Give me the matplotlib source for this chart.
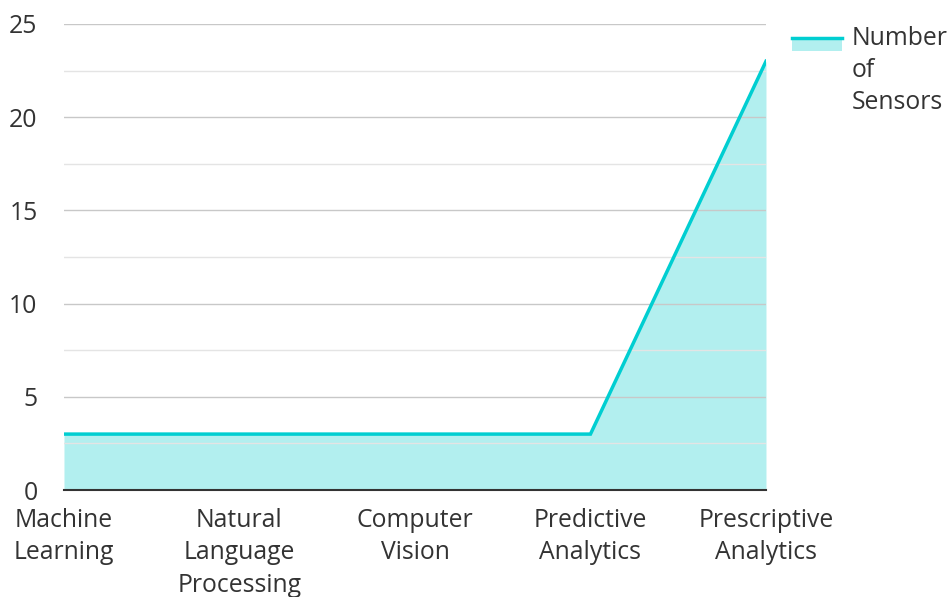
import matplotlib.pyplot as plt
from matplotlib.legend_handler import HandlerBase
from matplotlib.patches import Rectangle
from matplotlib.lines import Line2D

plt.rcParams['font.family'] = ['Open Sans', 'DejaVu Sans']

categories = ['Machine\nLearning', 'Natural\nLanguage\nProcessing', 'Computer\nVision',
              'Predictive\nAnalytics', 'Prescriptive\nAnalytics']
sensors = [3, 3, 3, 3, 23]
series_name = 'Number\nof\nSensors'

line_color = '#00CED1'
fill_color = '#B2EFEF'
fs = 17.8


class AreaHandler(HandlerBase):
    # line on top of a filled block, aligned with first label line
    def create_artists(self, legend, orig_handle, xdescent, ydescent, width, height, fontsize, trans):
        shift = 23
        y0 = -ydescent + shift - 2
        y1 = -ydescent + shift + 7
        rect = Rectangle((-xdescent, y0), width, y1 - y0,
                         facecolor=fill_color, edgecolor='none', transform=trans)
        ln = Line2D([-xdescent, -xdescent + width], [y1, y1],
                    color=line_color, lw=2.5, transform=trans)
        return [rect, ln]


fig = plt.figure(figsize=(9.52, 5.97), dpi=100)
ax = fig.add_axes([0.0672, 0.1792, 0.7374, 0.7806])

x = list(range(len(categories)))
ax.fill_between(x, 0, sensors, color=fill_color, lw=0, zorder=1)
ax.plot(x, sensors, color=line_color, lw=2.5, zorder=3, solid_joinstyle='miter')

ax.set_xlim(0, len(categories) - 1)
ax.set_ylim(0, 25)
ax.set_yticks([0, 5, 10, 15, 20, 25])
ax.set_yticks([2.5, 7.5, 12.5, 17.5, 22.5], minor=True)
ax.set_xticks(x)
ax.set_xticklabels(categories, linespacing=1.39)
ax.grid(axis='y', which='major', color='#c8c8c8', lw=1, zorder=2)
ax.grid(axis='y', which='minor', color='#e4e4e4', lw=1, zorder=2)
ax.set_axisbelow(False)

for s in ['top', 'right', 'left']:
    ax.spines[s].set_visible(False)
ax.spines['bottom'].set_color('#333333')
ax.spines['bottom'].set_linewidth(1.5)
ax.spines['bottom'].set_zorder(4)

ax.tick_params(axis='both', which='both', length=0, labelsize=fs, labelcolor='#333333')
ax.tick_params(axis='x', pad=13)
ax.tick_params(axis='y', pad=19)

leg = ax.legend([object()], [series_name], handler_map={object: AreaHandler()},
                loc='upper left', bbox_to_anchor=(0.832, 0.957), bbox_transform=fig.transFigure,
                frameon=False, fontsize=fs, handlelength=2.0, handletextpad=0.42,
                borderpad=0, borderaxespad=0, labelcolor='#333333')
for t in leg.get_texts():
    t.set_linespacing(1.39)

fig.savefig('out.png', dpi=100)
